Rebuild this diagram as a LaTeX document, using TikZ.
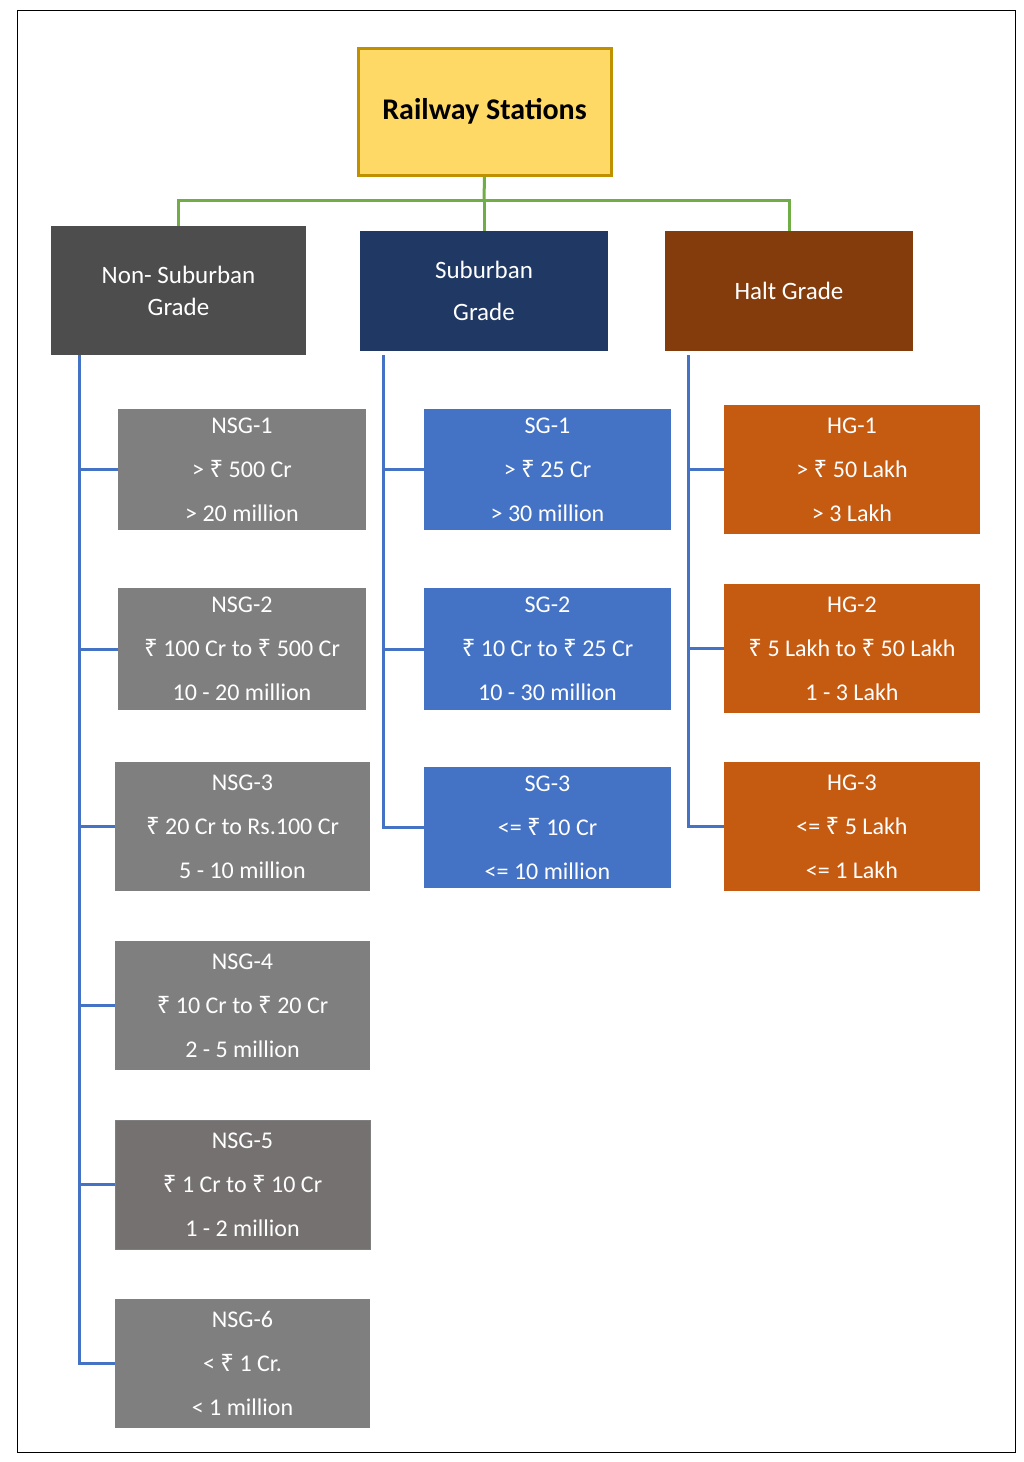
\documentclass[tikz,border=0pt]{standalone}
\usepackage{fontspec}
\setmainfont{Carlito}
\newfontfamily\rupfont{Noto Sans}
\newcommand\rs{{\rupfont ₹}}
\definecolor{tgold}{HTML}{FFD966}
\definecolor{tgoldb}{HTML}{BF9000}
\definecolor{lgreen}{HTML}{70AD47}
\definecolor{lblue}{HTML}{4472C4}
\definecolor{nsgd}{HTML}{4D4D4D}
\definecolor{sgd}{HTML}{203864}
\definecolor{hgd}{HTML}{843C0C}
\definecolor{nsg}{HTML}{7F7F7F}
\definecolor{nsgb}{HTML}{767171}
\definecolor{hg}{HTML}{C55A11}
\begin{document}
\begin{tikzpicture}[x=1pt,y=-1pt,
  box/.style={draw=none,text=white,align=center,inner sep=0pt,font=\fontsize{24}{44}\selectfont},
  grn/.style={draw=lgreen,line width=3pt},
  blu/.style={draw=lblue,line width=3pt}]
\useasboundingbox (0,0) rectangle (1024,1462);
\fill[white] (0,0) rectangle (1024,1462);
\draw[line width=0.8pt] (17,10) rectangle (1015,1452);
% title
\node[box,text=black,fill=tgold,draw=tgoldb,line width=3pt,minimum width=253pt,minimum height=127pt,font=\fontsize{30}{36}\selectfont\bfseries] (top) at (484.5,111.5) {Railway Stations};
\node[box,fill=nsgd,minimum width=255pt,minimum height=129pt,font=\fontsize{25}{32}\selectfont] (ns) at (178.5,290.5) {Non- Suburban\\Grade};
\node[box,fill=sgd,minimum width=248pt,minimum height=120pt,font=\fontsize{25}{42}\selectfont] (s) at (484,291) {Suburban\\Grade};
\node[box,fill=hgd,minimum width=248pt,minimum height=120pt,font=\fontsize{25}{32}\selectfont] (h) at (789,291) {Halt Grade};
\coordinate (bus) at (484,200);
\draw[grn] (top.south) -- (bus);
\draw[grn] (ns.north) |- (bus) -| (h.north);
\draw[grn] (bus) -- (s.north);
% NSG
\node[box,fill=nsg,minimum width=248pt,minimum height=121pt] (n1) at (242,469.5) {NSG-1\\> \rs{} 500 Cr\\> 20 million};
\node[box,fill=nsg,minimum width=248pt,minimum height=122pt] (n2) at (242,649) {NSG-2\\\rs{} 100 Cr to \rs{} 500 Cr\\10 - 20 million};
\node[box,fill=nsg,minimum width=255pt,minimum height=129pt] (n3) at (242.5,826.5) {NSG-3\\\rs{} 20 Cr to Rs.100 Cr\\5 - 10 million};
\node[box,fill=nsg,minimum width=255pt,minimum height=129pt] (n4) at (242.5,1005.5) {NSG-4\\\rs{} 10 Cr to \rs{} 20 Cr\\2 - 5 million};
\node[box,fill=nsgb,draw=nsg,line width=1pt,minimum width=255pt,minimum height=129pt] (n5) at (242.5,1184.5) {NSG-5\\\rs{} 1 Cr to \rs{} 10 Cr\\1 - 2 million};
\node[box,fill=nsg,minimum width=255pt,minimum height=129pt] (n6) at (242.5,1363.5) {NSG-6\\< \rs{} 1 Cr.\\< 1 million};
\coordinate (nt) at (79,355);
\coordinate (nb) at (79,1363.5);
\draw[blu] (nt) -- (nb) -- (n6.west);
\foreach \n in {n1,n2,n3,n4,n5}{\draw[blu] (nt |- \n.west) -- (\n.west);}
% SG
\node[box,fill=lblue,minimum width=247pt,minimum height=121pt] (s1) at (547.5,469.5) {SG-1\\> \rs{} 25 Cr\\> 30 million};
\node[box,fill=lblue,minimum width=247pt,minimum height=122pt] (s2) at (547.5,649) {SG-2\\\rs{} 10 Cr to \rs{} 25 Cr\\10 - 30 million};
\node[box,fill=lblue,minimum width=247pt,minimum height=121pt] (s3) at (547.5,827.5) {SG-3\\<= \rs{} 10 Cr\\<= 10 million};
\coordinate (st) at (383,355);
\coordinate (sb) at (383,827.5);
\draw[blu] (st) -- (sb) -- (s3.west);
\foreach \n in {s1,s2}{\draw[blu] (st |- \n.west) -- (\n.west);}
% HG
\node[box,fill=hg,minimum width=256pt,minimum height=129pt] (h1) at (852,469.5) {HG-1\\> \rs{} 50 Lakh\\> 3 Lakh};
\node[box,fill=hg,minimum width=256pt,minimum height=129pt] (h2) at (852,648.5) {HG-2\\\rs{} 5 Lakh to \rs{} 50 Lakh\\1 - 3 Lakh};
\node[box,fill=hg,minimum width=256pt,minimum height=129pt] (h3) at (852,826.5) {HG-3\\<= \rs{} 5 Lakh\\<= 1 Lakh};
\coordinate (ht) at (688,355);
\coordinate (hb) at (688,826.5);
\draw[blu] (ht) -- (hb) -- (h3.west);
\foreach \n in {h1,h2}{\draw[blu] (ht |- \n.west) -- (\n.west);}
\end{tikzpicture}
\end{document}
